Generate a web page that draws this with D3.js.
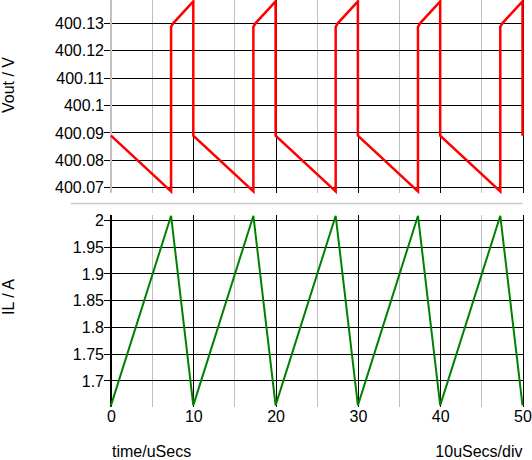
<!DOCTYPE html>
<html>
<head>
<meta charset="utf-8">
<script src="https://cdn.jsdelivr.net/npm/d3@7"></script>
<style>
  html, body { margin: 0; padding: 0; background: #ffffff; }
  svg { display: block; }
  text { font-family: "Liberation Sans", Arial, sans-serif; font-size: 16px; fill: #000; }
</style>
</head>
<body>
<svg id="chart" width="532" height="460"></svg>
<script>
// ---------- data ----------
const xTicks = [0, 10, 20, 30, 40, 50];
const xTickLabels = ["0", "10", "20", "30", "40", "50"];
const xMajorGrid = [10, 20, 30, 40, 50];
const xMinorGrid = [5, 15, 25, 35, 45];

const voutTicks = [400.07, 400.08, 400.09, 400.1, 400.11, 400.12, 400.13];
const voutTickLabels = ["400.07", "400.08", "400.09", "400.1", "400.11", "400.12", "400.13"];
const ilTicks = [1.7, 1.75, 1.8, 1.85, 1.9, 1.95, 2];
const ilTickLabels = ["1.7", "1.75", "1.8", "1.85", "1.9", "1.95", "2"];

// Vout (V) vs time (uSecs)
const voutTime = [
  0, 7.3, 7.3, 7.55, 10,
  10, 17.3, 17.3, 17.55, 20,
  20, 27.3, 27.3, 27.55, 30,
  30, 37.3, 37.3, 37.55, 40,
  40, 47.3, 47.3, 47.55, 50,
  50
];
const voutValues = [
  400.0888, 400.0685, 400.1285, 400.1298, 400.1378,
  400.0888, 400.0685, 400.1285, 400.1298, 400.1378,
  400.0888, 400.0685, 400.1285, 400.1298, 400.1378,
  400.0888, 400.0685, 400.1285, 400.1298, 400.1378,
  400.0888, 400.0685, 400.1285, 400.1298, 400.1378,
  400.0888
];

// IL (A) vs time (uSecs)
const ilTime = [0, 7.3, 10, 17.3, 20, 27.3, 30, 37.3, 40, 47.3, 50];
const ilValues = [1.653, 2.008, 1.653, 2.008, 1.653, 2.008, 1.653, 2.008, 1.653, 2.008, 1.653];

const xTitleLeft = "time/uSecs";
const xTitleRight = "10uSecs/div";
const voutTitle = "Vout / V";
const ilTitle = "IL / A";

// ---------- layout ----------
const svg = d3.select("#chart");
const plotLeft = 111, plotRight = 522.5, gridStart = 104;
const top1 = 0, bottom1 = 192.7;
const top2 = 215, bottom2 = 406.7;

const x = d3.scaleLinear().domain([0, 50]).range([plotLeft, plotRight]);
const yV = d3.scaleLinear().domain([400.068, 400.1383]).range([bottom1, top1]);
const yI = d3.scaleLinear().domain([1.6506, 2.0094]).range([bottom2, top2]);

function panel(yScale, ticks, labels, yTop, yBot, leftColor) {
  const g = svg.append("g");
  // minor (grey) vertical grid
  g.selectAll("line.minor").data(xMinorGrid).join("line")
    .attr("x1", d => Math.round(x(d)) + 0.5).attr("x2", d => Math.round(x(d)) + 0.5)
    .attr("y1", yTop).attr("y2", yBot)
    .attr("stroke", "#c0c0c0").attr("stroke-width", 1).attr("shape-rendering", "crispEdges");
  // horizontal grid + labels via axis
  const ax = g.append("g").attr("transform", `translate(${gridStart},0)`)
    .call(d3.axisLeft(yScale).tickValues(ticks)
      .tickFormat((d, i) => labels[i])
      .tickSize(-(plotRight - gridStart)).tickPadding(0));
  ax.select(".domain").remove();
  ax.selectAll(".tick line").attr("stroke", "#000").attr("stroke-width", 1)
    .attr("shape-rendering", "crispEdges");
  ax.selectAll(".tick text").attr("font-size", 16).attr("fill", "#000")
    .attr("font-family", "'Liberation Sans', Arial, sans-serif").attr("dy", "0.36em");
  // major (black) vertical grid
  g.selectAll("line.major").data(xMajorGrid).join("line")
    .attr("x1", d => Math.round(x(d)) + 0.5).attr("x2", d => Math.round(x(d)) + 0.5)
    .attr("y1", yTop).attr("y2", yBot)
    .attr("stroke", "#000").attr("stroke-width", 1).attr("shape-rendering", "crispEdges");
  // left axis line at t=0
  g.append("line")
    .attr("x1", x(0)).attr("x2", x(0)).attr("y1", yTop).attr("y2", yBot)
    .attr("stroke", leftColor).attr("stroke-width", 2);
  return g;
}

panel(yV, voutTicks, voutTickLabels, top1, bottom1, "#c0c0c0");
panel(yI, ilTicks, ilTickLabels, top2, bottom2, "#000");

// separator
svg.append("line").attr("x1", 71).attr("x2", plotRight).attr("y1", 203.5).attr("y2", 203.5)
  .attr("stroke", "#c8c8c8").attr("stroke-width", 1.5);

// curves
const voutData = voutTime.map((t, i) => [t, voutValues[i]]);
const ilData = ilTime.map((t, i) => [t, ilValues[i]]);

svg.append("path").datum(voutData)
  .attr("d", d3.line().x(d => x(d[0])).y(d => yV(d[1])))
  .attr("fill", "none").attr("stroke", "#ff0000").attr("stroke-width", 2.5)
  .attr("stroke-linejoin", "miter");

svg.append("path").datum(ilData)
  .attr("d", d3.line().x(d => x(d[0])).y(d => yI(d[1])))
  .attr("fill", "none").attr("stroke", "#008000").attr("stroke-width", 2);

// bottom x tick labels
const xa = svg.append("g").attr("transform", `translate(0,${bottom2})`)
  .call(d3.axisBottom(x).tickValues(xTicks).tickFormat((d, i) => xTickLabels[i])
    .tickSize(0).tickPadding(3.5));
xa.select(".domain").remove();
xa.selectAll(".tick text").attr("font-size", 16).attr("fill", "#000")
  .attr("font-family", "'Liberation Sans', Arial, sans-serif");

// titles
svg.append("text").attr("x", plotLeft + 1).attr("y", 456.5).text(xTitleLeft);
svg.append("text").attr("x", plotRight).attr("y", 456.5).attr("text-anchor", "end").text(xTitleRight);
svg.append("text").attr("transform", "translate(13.5,85) rotate(-90)")
  .attr("text-anchor", "middle").text(voutTitle);
svg.append("text").attr("transform", "translate(13.5,297) rotate(-90)")
  .attr("text-anchor", "middle").text(ilTitle);
</script>
</body>
</html>
